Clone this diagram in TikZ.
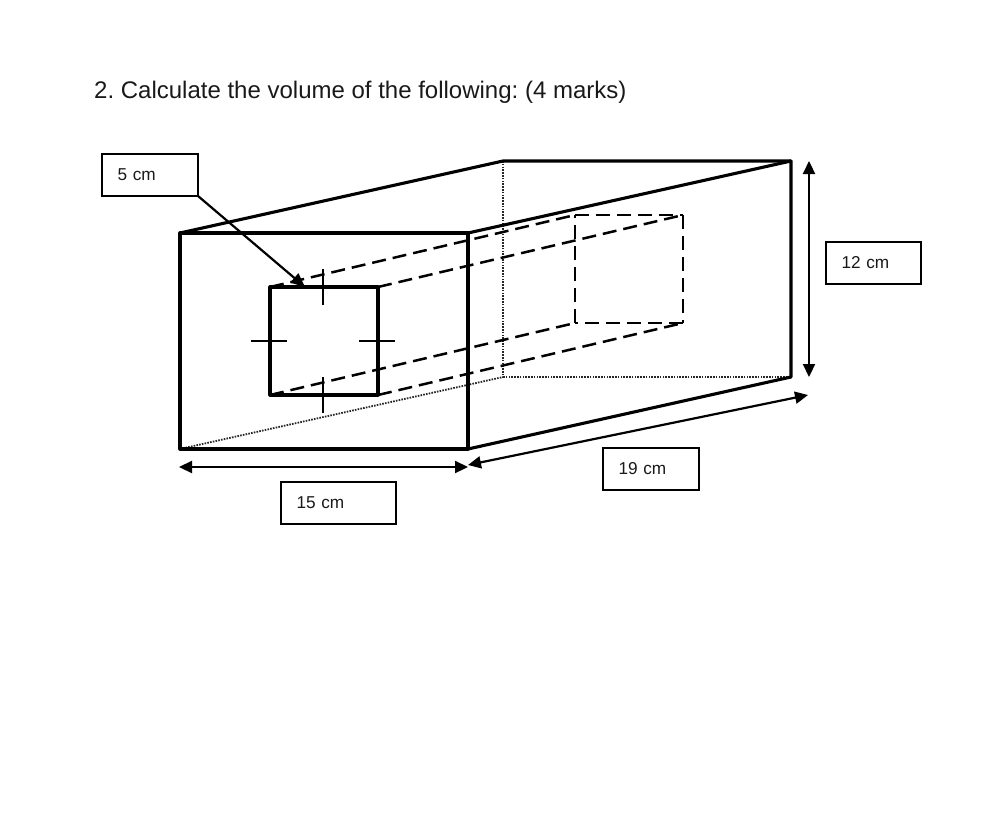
\documentclass[tikz,border=0pt]{standalone}
\usepackage{fontspec}
\setmainfont{Liberation Sans}
\usetikzlibrary{arrows.meta}
\tikzset{
  heavy/.style={line width=3.1pt,line cap=round,line join=round},
  hidden/.style={line width=2.5pt,dash pattern=on 14pt off 7pt},
  faint/.style={line width=1.8pt,dash pattern=on 1.6pt off 1.2pt,black!85},
  tick/.style={line width=2pt},
  dim/.style={line width=2.2pt,{Triangle[length=13pt,width=12pt]}-{Triangle[length=13pt,width=12pt]}},
  lead/.style={line width=2.2pt,-{Triangle[length=14pt,width=12pt]}},
  labelbox/.style={draw,line width=2.2pt,outer sep=0pt,anchor=north west,minimum height=42pt,inner xsep=15.5pt,inner ysep=0pt,font=\fontsize{17.2}{20}\selectfont,align=left,text=black!90}
}
\begin{document}
\frenchspacing
\begin{tikzpicture}[x=1pt,y=-1pt]
\useasboundingbox (0,0) rectangle (988,824);
\node[anchor=base west,inner sep=0pt,font=\fontsize{24}{28}\selectfont,text=black!90] (title) at (94,99) {2. Calculate the volume of the following: (4 marks)};
% corners
\coordinate (fa) at (180,233); \coordinate (fb) at (468,233);
\coordinate (fc) at (468,449); \coordinate (fd) at (180,449);
\coordinate (ba) at (503,161); \coordinate (bb) at (791,161);
\coordinate (bc) at (791,377); \coordinate (bd) at (503,377);
\coordinate (ia) at (270,287); \coordinate (ib) at (378,287);
\coordinate (ic) at (378,395); \coordinate (id) at (270,395);
\coordinate (ja) at (575,215); \coordinate (jb) at (683,215);
\coordinate (jc) at (683,323); \coordinate (jd) at (575,323);
% hidden edges
\draw[faint] (ba) -- (bd);
\draw[faint] (bd) -- (bc);
\draw[faint] (fd) -- (bd);
\draw[hidden] (ia) -- (ja);
\draw[hidden] (ib) -- (jb);
\draw[hidden] (ic) -- (jc);
\draw[hidden] (id) -- (jd);
\draw[hidden] (ja) -- (jb);
\draw[hidden] (jb) -- (jc);
\draw[hidden] (jc) -- (jd);
\draw[hidden] (jd) -- (ja);
% solid edges
\draw[heavy] (fa) -- (fb) -- (fc) -- (fd) -- cycle;
\draw[heavy] (fa) -- (ba) -- (bb) -- (bc) -- (fc);
\draw[heavy] (fb) -- (bb);
\draw[heavy] (ia) -- (ib) -- (ic) -- (id) -- cycle;
% equal-side ticks
\coordinate (t1a) at (323,269); \coordinate (t1b) at (323,305);
\coordinate (t2a) at (323,377); \coordinate (t2b) at (323,413);
\coordinate (t3a) at (251,341); \coordinate (t3b) at (287,341);
\coordinate (t4a) at (359,341); \coordinate (t4b) at (395,341);
\draw[tick] (t1a) -- (t1b);
\draw[tick] (t2a) -- (t2b);
\draw[tick] (t3a) -- (t3b);
\draw[tick] (t4a) -- (t4b);
% labels
\node[labelbox,minimum width=96pt,text width=65pt] (five) at (102,154) {5 cm};
\node[labelbox,minimum width=95pt,text width=64pt] (twelve) at (826,242) {12 cm};
\node[labelbox,minimum width=115pt,text width=84pt] (fifteen) at (281,482) {15 cm};
\node[labelbox,minimum width=96pt,text width=65pt] (nineteen) at (603,448) {19 cm};
% dimension arrows
\coordinate (d1a) at (179,467); \coordinate (d1b) at (468,467);
\coordinate (d2a) at (468,465); \coordinate (d2b) at (808,395);
\coordinate (d3a) at (809,161); \coordinate (d3b) at (809,377);
\coordinate (p5) at (305,287);
\draw[dim] (d1a) -- (d1b);
\draw[dim] (d2a) -- (d2b);
\draw[dim] (d3a) -- (d3b);
\draw[lead] (five.south east) -- (p5);
\end{tikzpicture}
\end{document}
